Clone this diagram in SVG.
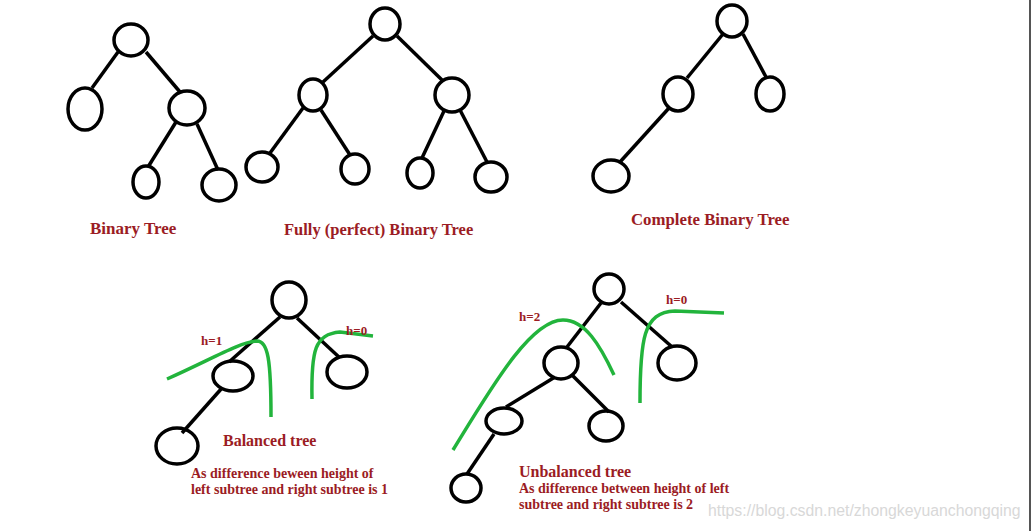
<svg xmlns="http://www.w3.org/2000/svg" width="1033" height="531" viewBox="0 0 1033 531">
<style>
.n{fill:none;stroke:#000;stroke-width:3.5}
.e line{stroke:#000;stroke-width:3.5}
.g{fill:none;stroke:#22b43c;stroke-width:3.5}
.t{font-family:"Liberation Serif",serif;font-weight:bold;fill:#9b1c24}
</style>
<rect width="1033" height="531" fill="#fff"/>
<line x1="1030" y1="0" x2="1030" y2="531" stroke="#555" stroke-width="2"/>
<g class="e" id="connectors">
<line x1="118" y1="52" x2="92" y2="88"/><line x1="146" y1="52" x2="180" y2="92"/>
<line x1="176" y1="122" x2="148" y2="167"/><line x1="197" y1="124" x2="218" y2="170"/>
<line x1="373" y1="36" x2="323" y2="82"/><line x1="397" y1="36" x2="442" y2="80"/>
<line x1="303" y1="108" x2="270" y2="153"/><line x1="321" y1="110" x2="350" y2="155"/>
<line x1="444" y1="111" x2="422" y2="158"/><line x1="460" y1="110" x2="487" y2="162"/>
<line x1="723" y1="34" x2="687" y2="78"/><line x1="743" y1="34" x2="766" y2="77"/>
<line x1="669" y1="108" x2="620" y2="162"/>
<line x1="280" y1="317" x2="229" y2="362"/><line x1="297" y1="318" x2="340" y2="358"/>
<line x1="222" y1="388" x2="182" y2="433"/>
<line x1="601" y1="303" x2="567" y2="347"/><line x1="621" y1="302" x2="671" y2="346"/>
<line x1="572" y1="375" x2="609" y2="412"/><line x1="555" y1="377" x2="506" y2="407"/>
<line x1="494" y1="434" x2="467" y2="474"/>
</g>
<g id="tree1">
<ellipse class="n" cx="131" cy="40" rx="17" ry="16"/><ellipse class="n" cx="85" cy="109" rx="17" ry="21"/>
<ellipse class="n" cx="187" cy="108" rx="18" ry="17"/><ellipse class="n" cx="146" cy="182" rx="13" ry="16"/>
<ellipse class="n" cx="219" cy="185" rx="17" ry="16"/>
<text class="t" x="90" y="234" font-size="17">Binary Tree</text>
</g>
<g id="tree2">
<ellipse class="n" cx="385" cy="24" rx="15" ry="16"/><ellipse class="n" cx="313" cy="95" rx="14" ry="16"/>
<ellipse class="n" cx="452" cy="95" rx="17" ry="17"/><ellipse class="n" cx="262" cy="167" rx="16" ry="15"/>
<ellipse class="n" cx="355" cy="169" rx="14" ry="15"/><ellipse class="n" cx="420" cy="173" rx="13" ry="15"/>
<ellipse class="n" cx="491" cy="177" rx="16" ry="15"/>
<text class="t" x="284" y="235" font-size="16.5">Fully (perfect) Binary Tree</text>
</g>
<g id="tree3">
<ellipse class="n" cx="732" cy="21" rx="15" ry="16"/><ellipse class="n" cx="678" cy="94" rx="15" ry="17"/>
<ellipse class="n" cx="770" cy="94" rx="14" ry="17"/><ellipse class="n" cx="611" cy="176" rx="18" ry="16"/>
<text class="t" x="631" y="225" font-size="16.8">Complete Binary Tree</text>
</g>
<g id="balanced">
<ellipse class="n" cx="289" cy="300" rx="17" ry="18"/><ellipse class="n" cx="233" cy="376" rx="20" ry="15"/>
<ellipse class="n" cx="347" cy="372" rx="20" ry="16"/><ellipse class="n" cx="177" cy="446" rx="21" ry="18"/>
<path class="g" d="M167,379 C210,360 240,342 257,341 C268,341 271,360 271,417"/>
<path class="g" d="M312,399 C311,350 315,334 340,332 L373,336"/>
<text class="t" x="201" y="345" font-size="13">h=1</text>
<text class="t" x="346" y="335" font-size="13">h=0</text>
<text class="t" x="223" y="446" font-size="16">Balanced tree</text>
<text class="t" x="191" y="478" font-size="14">As difference beween height of</text>
<text class="t" x="191" y="494" font-size="14">left subtree and right subtree is 1</text>
</g>
<g id="unbalanced">
<ellipse class="n" cx="609" cy="289" rx="15" ry="15"/><ellipse class="n" cx="561" cy="363" rx="17" ry="16"/>
<ellipse class="n" cx="677" cy="363" rx="19" ry="17"/><ellipse class="n" cx="504" cy="421" rx="18" ry="13"/>
<ellipse class="n" cx="606" cy="426" rx="17" ry="15"/><ellipse class="n" cx="466" cy="488" rx="15" ry="14"/>
<path class="g" d="M453,450 C490,390 530,320 563,320 C585,320 600,345 614,375"/>
<path class="g" d="M640,403 C640,340 643,312 675,311 L724,313"/>
<text class="t" x="519" y="321" font-size="13">h=2</text>
<text class="t" x="666" y="304" font-size="13">h=0</text>
<text class="t" x="519" y="477" font-size="16">Unbalanced tree</text>
<text class="t" x="519" y="493" font-size="14">As difference between height of left</text>
<text class="t" x="519" y="509" font-size="14">subtree and right subtree is 2</text>
</g>
<text x="708" y="516" font-family="Liberation Sans,sans-serif" font-size="15.8" fill="#d8d8d8">https://blog.csdn.net/zhongkeyuanchongqing</text>
</svg>
